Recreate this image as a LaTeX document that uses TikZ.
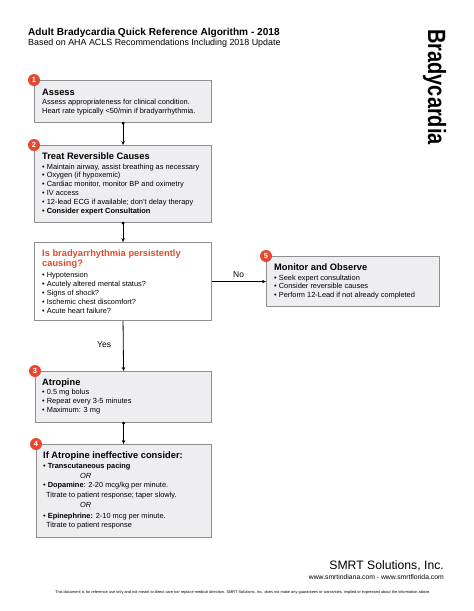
\documentclass[tikz,border=0pt]{standalone}
\usepackage{fontspec}
\setmainfont{Liberation Sans}
\newfontfamily\brfont[FakeStretch=0.8]{Liberation Sans}
\usetikzlibrary{arrows.meta}
\definecolor{boxfill}{HTML}{EEEEF1}
\definecolor{boxline}{HTML}{8F8F8F}
\definecolor{bred}{HTML}{E6472F}
\tikzset{
 box/.style={draw=boxline, line width=1.1pt, fill=boxfill, anchor=north west, inner sep=0},
 wbox/.style={box, fill=white},
 badge/.style={circle, fill=bred, text=white, inner sep=0, minimum size=12pt, font=\fontsize{7.5}{8}\selectfont\bfseries},
 hdr/.style={anchor=base west, inner sep=0, font=\fontsize{9.3}{10}\selectfont\bfseries},
 rhdr/.style={hdr, text=bred},
 body/.style={anchor=base west, inner sep=0, font=\fontsize{7.4}{8}\selectfont},
 conn/.style={line width=0.8pt, -{Stealth[length=4pt,width=3.5pt]}},
 dotst/.style={circle, fill=black, inner sep=0, minimum size=3.2pt},
 lbl/.style={anchor=base west, inner sep=0, font=\fontsize{8.5}{9}\selectfont},
}
\begin{document}
\begin{tikzpicture}[x=1pt,y=-1pt]
\useasboundingbox (0,0) rectangle (474,611);
\fill[white] (0,0) rectangle (474,611);

% titles
\node[anchor=base west, inner sep=0, font=\fontsize{10.1}{11}\selectfont\bfseries] (title) at (28,35.3) {Adult Bradycardia Quick Reference Algorithm - 2018};
\node[anchor=base west, inner sep=0, font=\fontsize{8.9}{10}\selectfont] (subtitle) at (28,45.7) {Based on AHA ACLS Recommendations Including 2018 Update};
\node[anchor=base west, inner sep=0, rotate=-90, font=\brfont\fontsize{25}{26}\selectfont\bfseries] (brady) at (428,29) {Bradycardia};

% boxes
\node[box, minimum width=177pt, minimum height=42pt] (assess) at (34,80) {};
\node[box, minimum width=177pt, minimum height=77pt] (treat) at (34,145) {};
\node[wbox, minimum width=177pt, minimum height=78pt] (decide) at (34,242) {};
\node[box, minimum width=173pt, minimum height=50pt] (monitor) at (266,256) {};
\node[box, minimum width=176pt, minimum height=51pt] (atro) at (35,371) {};
\node[box, minimum width=175pt, minimum height=93pt] (ineff) at (36,444) {};

% badges
\node[badge] (b1) at (assess.north west) {1};
\node[badge] (b2) at (treat.north west) {2};
\node[badge] (b5) at (monitor.north west) {5};
\node[badge] (b3) at (atro.north west) {3};
\node[badge] (b4) at (ineff.north west) {4};

% box 1 text
\node[hdr] (h1) at (42,95.7) {Assess};
\node[body] (t1a) at (42,104.7) {Assess appropriateness for clinical condition.};
\node[body] (t1b) at (42,113.7) {Heart rate typically <50/min if bradyarrhythmia.};

% box 2 text
\node[hdr] (h2) at (42,159.3) {Treat Reversible Causes};
\node[body] (t2a) at (42,169) {• Maintain airway, assist breathing as necessary};
\node[body] (t2b) at (42,177.8) {• Oxygen (if hypoxemic)};
\node[body] (t2c) at (42,186.7) {• Cardiac monitor, monitor BP and oximetry};
\node[body] (t2d) at (42,195.6) {• IV access};
\node[body] (t2e) at (42,204.4) {• 12-lead ECG if available; don't delay therapy};
\node[body] (t2f) at (42,213.3) {• \textbf{Consider expert Consultation}};

% decision text
\node[rhdr] (hd1) at (42,256) {Is bradyarrhythmia persistently};
\node[rhdr] (hd2) at (42,266.7) {causing?};
\node[body] (tda) at (42,277) {• Hypotension};
\node[body] (tdb) at (42,286) {• Acutely altered mental status?};
\node[body] (tdc) at (42,295) {• Signs of shock?};
\node[body] (tdd) at (42,304) {• Ischemic chest discomfort?};
\node[body] (tde) at (42,313) {• Acute heart failure?};

% monitor text
\node[hdr] (h5) at (274,270) {Monitor and Observe};
\node[body] (t5a) at (274,280) {• Seek expert consultation};
\node[body] (t5b) at (274,288.8) {• Consider reversible causes};
\node[body] (t5c) at (274,297.7) {• Perform 12-Lead if not already completed};

% atropine text
\node[hdr] (h3) at (42,385) {Atropine};
\node[body] (t3a) at (42,394.3) {• 0.5 mg bolus};
\node[body] (t3b) at (42,403.3) {• Repeat every 3-5 minutes};
\node[body] (t3c) at (42,412.3) {• Maximum: 3 mg};

% box 4 text
\node[hdr] (h4) at (43,458.3) {If Atropine ineffective consider:};
\node[body] (t4a) at (43,468.3) {• \textbf{Transcutaneous pacing}};
\node[body] (t4b) at (80,478.3) {\itshape OR};
\node[body] (t4c) at (43,487.5) {• \textbf{Dopamine}: 2-20 mcg/kg per minute.};
\node[body] (t4d) at (46,497.5) {Titrate to patient response; taper slowly.};
\node[body] (t4e) at (80,507.7) {\itshape OR};
\node[body] (t4f) at (43,518) {• \textbf{Epinephrine:} 2-10 mcg per minute.};
\node[body] (t4g) at (46,527.7) {Titrate to patient response};

% connectors
\node[dotst] (d1) at (assess.south) {};
\node[dotst] (d2) at (treat.south) {};
\node[dotst] (d3) at (atro.south) {};
\draw[conn] (d1.center) -- (treat.north);
\draw[conn] (d2.center) -- (decide.north);
\draw[conn] (decide.south) -- (atro.north);
\draw[conn] (decide.east |- monitor.west) -- (monitor.west);
\draw[conn] (d3.center) -- (ineff.north -| d3.center);
\node[lbl] (yes) at (97,347) {Yes};
\node[lbl] (no) at (233,277.3) {No};

% footer
\node[anchor=base east, inner sep=0, font=\fontsize{12.2}{13}\selectfont] (smrt) at (444,569.3) {SMRT Solutions, Inc.};
\node[anchor=base east, inner sep=0, font=\fontsize{6.8}{7}\selectfont] (url) at (444,579) {www.smrtindiana.com - www.smrtflorida.com};
\node[anchor=base west, inner sep=0, font=\fontsize{3.9}{4}\selectfont] (disc) at (55,593.5) {This document is for reference use only and not meant to direct care nor replace medical direction. SMRT Solutions, Inc. does not make any guarantees or warranties, implied or expressed about the information above.};
\end{tikzpicture}
\end{document}
